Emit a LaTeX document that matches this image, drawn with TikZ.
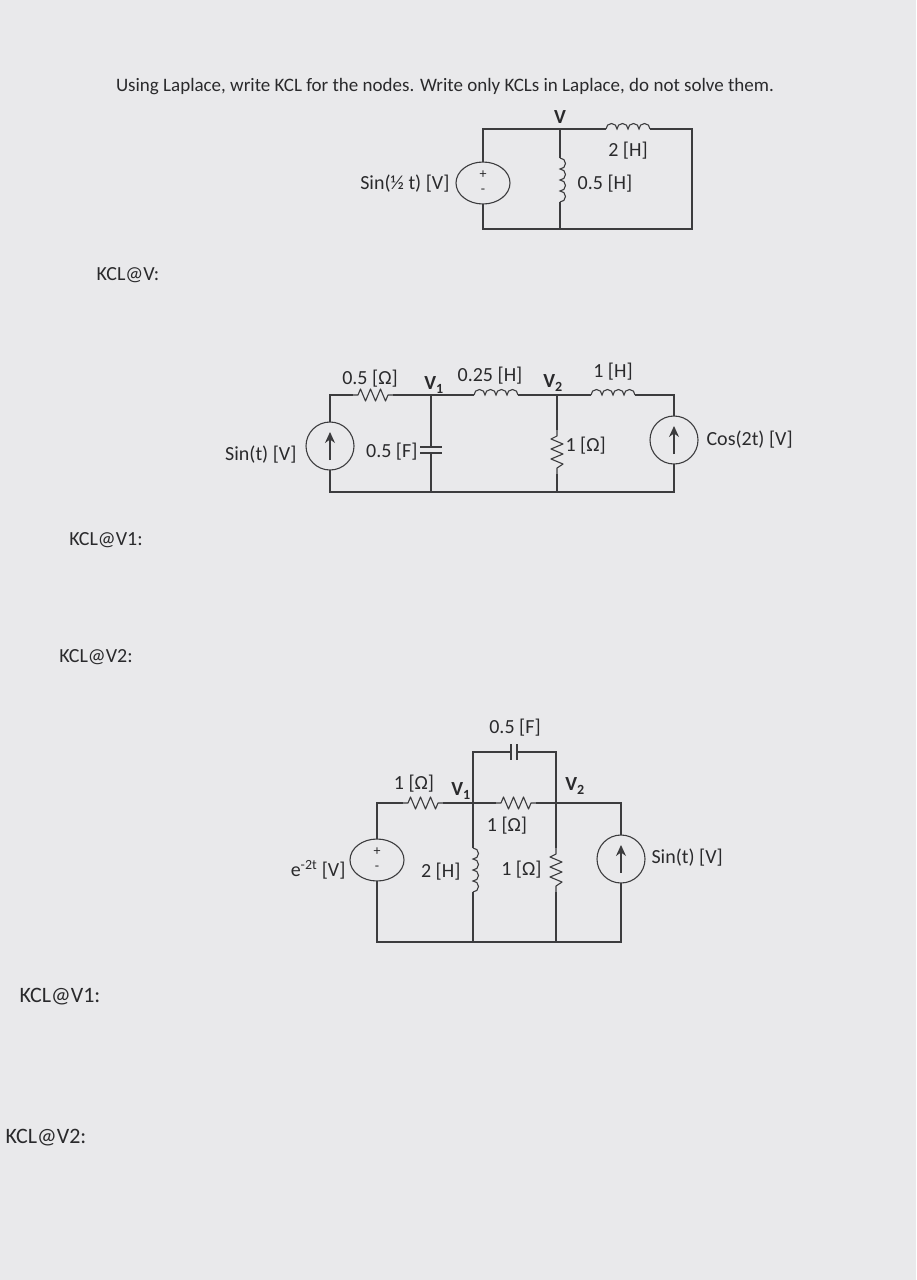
\documentclass[tikz,border=0pt]{standalone}
\usepackage{fontspec}
\usetikzlibrary{arrows.meta}
\setmainfont{Carlito}
\begin{document}
\begin{tikzpicture}[x=1pt,y=-1pt,line width=1.1pt,
  every node/.style={text=txt,font=\fontsize{20}{22}\selectfont,inner sep=1pt},
  lab/.style={font=\fontsize{20}{22}\selectfont},
  big/.style={font=\fontsize{22}{24}\selectfont},
  wire/.style={draw=ln,line width=1.1pt},
  indh/.pic={\draw[wire] (-22,0) arc[start angle=180,end angle=360,radius=5.5] arc[start angle=180,end angle=360,radius=5.5] arc[start angle=180,end angle=360,radius=5.5] arc[start angle=180,end angle=360,radius=5.5];},
  indv/.pic={\draw[wire] (0,-22) arc[start angle=270,end angle=450,radius=5.5] arc[start angle=270,end angle=450,radius=5.5] arc[start angle=270,end angle=450,radius=5.5] arc[start angle=270,end angle=450,radius=5.5];},
  resh/.pic={\draw[wire,line join=round] (-20,0)--(-15,0)--(-12.5,-6)--(-7.5,6)--(-2.5,-6)--(2.5,6)--(7.5,-6)--(12.5,6)--(15,0)--(20,0);},
  resv/.pic={\draw[wire,line join=round] (0,-22)--(0,-16)--(-6,-13)--(6,-8)--(-6,-3)--(6,2)--(-6,7)--(6,12)--(0,16)--(0,22);},
  capv/.pic={\draw[wire] (-11,-3)--(11,-3) (-11,3)--(11,3);},
  caph/.pic={\draw[wire] (-3,-8)--(-3,8) (3,-8)--(3,8);},
  vsrc/.pic={\draw[wire] (0,0) ellipse[x radius=27,y radius=21]; \node[font=\fontsize{14}{14}\selectfont] at (0,-8) {+}; \node[font=\fontsize{14}{14}\selectfont] at (0,8) {-};},
  isrc/.pic={\draw[wire] (0,0) circle[radius=24]; \draw[wire,-{Stealth[length=11pt,width=10pt]}] (0,14)--(0,-14);}
]
\definecolor{bg}{HTML}{E9E9EB}
\definecolor{ln}{HTML}{3C3C3E}
\definecolor{txt}{HTML}{2A2A2C}
\fill[bg] (0,0) rectangle (916,1280);
\useasboundingbox (0,0) rectangle (916,1280);

\node[font=\fontsize{19}{21}\selectfont] (title) at (445,87) {Using Laplace, write KCL for the nodes. Write only KCLs in Laplace, do not solve them.};
\node[lab] (k1) at (128,275) {KCL@V:};
\node[lab] (k2) at (106,540) {KCL@V1:};
\node[lab] (k3) at (96,657) {KCL@V2:};
\node[big] (k4) at (60,997) {KCL@V1:};
\node[big] (k5) at (46,1138) {KCL@V2:};

% ---- circuit 1
\coordinate (a1) at (483,129); \coordinate (a2) at (560,129); \coordinate (a3) at (692,129);
\coordinate (b1) at (483,229); \coordinate (b2) at (560,229); \coordinate (b3) at (692,229);
\pic at (483,183) {vsrc};
\pic at (560,180) {indv};
\pic at (628,129) {indh};
\draw[wire] (483,162) -- (a1) -- (a2) -- (606,129);
\draw[wire] (a2) -- (560,158);
\draw[wire] (650,129) -- (a3) -- (b3) -- (b1) -- (483,204);
\draw[wire] (560,202) -- (b2);
\node (V) at (560,117) {\textbf{V}};
\node (l2H) at (628,151) {2 [H]};
\node (l05H) at (605,184) {0.5 [H]};
\node[anchor=east] (ls1) at (451,184) {Sin(½ t) [V]};

% ---- circuit 2
\coordinate (c1) at (330,395); \coordinate (c2) at (431,395); \coordinate (c3) at (557,395); \coordinate (c4) at (674,395);
\coordinate (d1) at (330,492); \coordinate (d2) at (431,492); \coordinate (d3) at (557,492); \coordinate (d4) at (674,492);
\pic at (330,446) {isrc};
\pic at (674,440) {isrc};
\pic at (373,395) {resh};
\pic at (496,395) {indh};
\pic at (613,395) {indh};
\pic at (431,450) {capv};
\pic at (557,452) {resv};
\draw[wire] (330,422) -- (c1) -- (353,395);
\draw[wire] (393,395) -- (c2) -- (474,395);
\draw[wire] (c2) -- (431,447);
\draw[wire] (431,453) -- (d2);
\draw[wire] (518,395) -- (c3) -- (591,395);
\draw[wire] (c3) -- (557,430);
\draw[wire] (557,474) -- (d3);
\draw[wire] (635,395) -- (c4) -- (674,416);
\draw[wire] (674,464) -- (d4) -- (d1) -- (330,470);
\node (n05) at (370,379) {0.5 [Ω]};
\node (nv1) at (434,385) {\textbf{V\textsubscript{1}}};
\node (n025) at (490,376) {0.25 [H]};
\node (nv2) at (553,383) {\textbf{V\textsubscript{2}}};
\node (n1H) at (613,372) {1 [H]};
\node[anchor=east] (nsin) at (298,455) {Sin(t) [V]};
\node[anchor=east] (n05F) at (419,452) {0.5 [F]};
\node[anchor=west] (n1o) at (564,446) {1 [Ω]};
\node[anchor=west] (ncos) at (705,440) {Cos(2t) [V]};

% ---- circuit 3
\coordinate (e1) at (377,803); \coordinate (e2) at (473,803); \coordinate (e3) at (556,803); \coordinate (e4) at (621,803);
\coordinate (t2) at (473,752); \coordinate (t3) at (556,752);
\coordinate (f1) at (377,942); \coordinate (f2) at (473,942); \coordinate (f3) at (556,942); \coordinate (f4) at (621,942);
\pic at (377,860) {vsrc};
\pic at (621,859) {isrc};
\pic at (423,803) {resh};
\pic at (516,803) {resh};
\pic at (514,752) {caph};
\pic at (473,870) {indv};
\pic at (556,870) {resv};
\draw[wire] (377,839) -- (e1) -- (403,803);
\draw[wire] (443,803) -- (e2) -- (496,803);
\draw[wire] (536,803) -- (e3) -- (e4) -- (621,835);
\draw[wire] (e2) -- (t2) -- (511,752);
\draw[wire] (517,752) -- (t3) -- (e3);
\draw[wire] (e2) -- (473,848);
\draw[wire] (473,892) -- (f2);
\draw[wire] (e3) -- (556,848);
\draw[wire] (556,892) -- (f3);
\draw[wire] (621,883) -- (f4) -- (f1) -- (377,881);
\node (m05F) at (515,728) {0.5 [F]};
\node (m1a) at (414,784) {1 [Ω]};
\node (mv1) at (461,791) {\textbf{V\textsubscript{1}}};
\node (mv2) at (575,786) {\textbf{V\textsubscript{2}}};
\node (m1b) at (507,826) {1 [Ω]};
\node[anchor=east] (me) at (347,870) {e\textsuperscript{-2t} [V]};
\node[anchor=east] (m2H) at (462,872) {2 [H]};
\node[anchor=east] (m1c) at (543,870) {1 [Ω]};
\node[anchor=west] (msin) at (650,858) {Sin(t) [V]};
\end{tikzpicture}
\end{document}
